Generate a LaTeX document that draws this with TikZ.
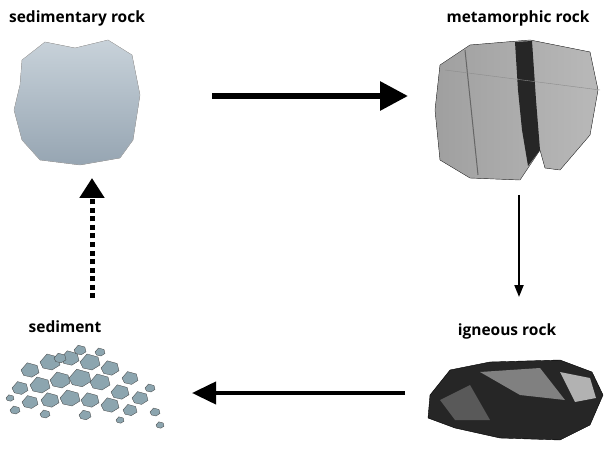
\documentclass[tikz,border=0pt]{standalone}
\usepackage{fontspec}
\setmainfont{Open Sans}
\usetikzlibrary{arrows.meta}
\definecolor{sedA}{RGB}{200,210,218}
\definecolor{sedB}{RGB}{150,165,178}
\definecolor{pebc}{RGB}{140,165,175}
\begin{document}
\begin{tikzpicture}[x=1pt,y=-1pt,
  lbl/.style={font=\bfseries\fontsize{15.5}{17}\selectfont, inner sep=0pt},
  bigarrow/.style={line width=6pt,-{Triangle[length=28pt,width=28pt]}},
  thinarrow/.style={line width=2pt,-{Triangle[length=12pt,width=9pt]}},
  dotarrow/.style={line width=5pt,dash pattern=on 5pt off 3.5pt,-{Triangle[length=20pt,width=24pt]}},
  pebble/.style={fill=pebc,draw=gray!50!black,line width=0.3pt}]
\useasboundingbox (0,0) rectangle (607,454);
% labels
\node[lbl] (lsed) at (77,18) {sedimentary rock};
\node[lbl] (lmet) at (518,18) {metamorphic rock};
\node[lbl] (ligne) at (507,331) {igneous rock};
\node[lbl] (lsedi) at (65,327) {sediment};
% sedimentary rock
\fill[top color=sedA,bottom color=sedB,draw=gray!60]
  (22,60) -- (45,42) -- (75,48) -- (108,40) -- (132,55) -- (140,95) -- (133,140) -- (120,158) -- (80,165) -- (40,160) -- (22,140) -- (14,110) -- (20,85) -- cycle;
\coordinate (sedrock) at (77,100);
% metamorphic rock
\fill[left color=gray!75,right color=gray!55,draw=gray!50!black]
  (440,65) -- (470,45) -- (530,40) -- (590,52) -- (598,90) -- (590,135) -- (560,170) -- (545,168) -- (540,150) -- (520,180) -- (470,178) -- (440,160) -- (435,110) -- cycle;
\fill[black!85] (515,42) -- (532,41) -- (536,100) -- (540,150) -- (528,166) -- (522,130) -- (518,90) -- cycle;
\draw[black!60,line width=1pt] (465,50) -- (478,175);
\draw[black!45] (445,70) -- (600,90);
\coordinate (metrock) at (518,110);
% igneous rock
\fill[black!85,draw=black]
  (430,395) -- (450,370) -- (490,362) -- (560,360) -- (592,372) -- (603,395) -- (590,425) -- (560,440) -- (500,438) -- (455,428) -- (428,418) -- cycle;
\fill[black!50] (480,372) -- (540,368) -- (565,400) -- (520,395) -- cycle;
\fill[black!30] (560,372) -- (590,378) -- (596,398) -- (575,402) -- cycle;
\fill[black!65] (440,400) -- (470,385) -- (490,420) -- (455,420) -- cycle;
\coordinate (ignrock) at (515,400);
% sediment gravel
\foreach \x/\y/\r in {30/370/9,50/362/10,70/358/9,90/362/10,110/368/9,130/378/8,20/388/8,40/385/10,60/380/10,80/378/11,100/382/10,120/392/9,140/398/8,30/402/8,50/400/9,70/398/10,90/400/9,110/405/9,130/410/7,15/410/5,155/412/5,45/414/5,85/415/6,60/358/6,80/350/6,100/352/5,150/388/5,10/398/4,160/425/4,120/420/4} {
  \fill[pebble] (\x-\r,\y) -- (\x-0.3*\r,\y-0.8*\r) -- (\x+0.8*\r,\y-0.5*\r) -- (\x+\r,\y+0.3*\r) -- (\x+0.2*\r,\y+0.8*\r) -- (\x-0.7*\r,\y+0.6*\r) -- cycle;
}
\coordinate (sediment) at (85,390);
% arrows
\coordinate (a1s) at (212,96); \coordinate (a1e) at (408,96);
\coordinate (a2s) at (519,195); \coordinate (a2e) at (519,297);
\coordinate (a3s) at (405,393); \coordinate (a3e) at (192,393);
\coordinate (a4s) at (92,298); \coordinate (a4e) at (92,178);
\draw[bigarrow] (a1s) -- (a1e);
\draw[thinarrow] (a2s) -- (a2e);
\draw[bigarrow,line width=4pt,-{Triangle[length=24pt,width=22pt]}] (a3s) -- (a3e);
\draw[dotarrow] (a4s) -- (a4e);
\end{tikzpicture}
\end{document}
